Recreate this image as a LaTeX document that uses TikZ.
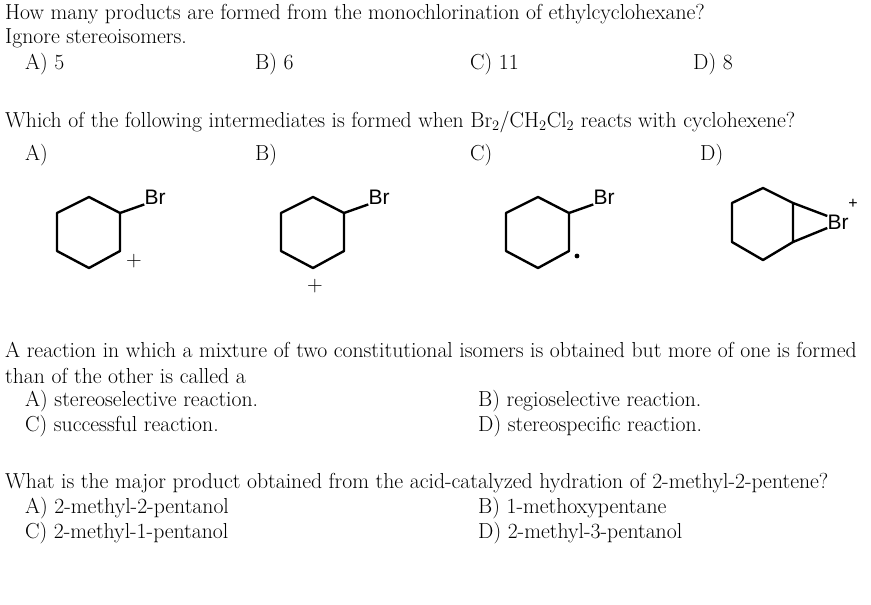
\documentclass[tikz,border=0pt]{standalone}
\usepackage{fontspec}
\newfontfamily\brfont{Liberation Sans}
\usetikzlibrary{positioning}
\tikzset{
    txt/.style={anchor=west,inner sep=0pt,font=\fontsize{21.7}{24}\selectfont},
    atom/.style={inner sep=0pt,font=\brfont\fontsize{21}{24}\selectfont},
    bond/.style={line width=2.4pt,line join=round}
}
\begin{document}
\begin{tikzpicture}[x=1pt,y=-1pt]
    \useasboundingbox (0,0) rectangle (871,605);
    % question 1
    \node[txt] (q1a) at (5,14) {How many products are formed from the monochlorination of ethylcyclohexane?};
    \node[txt] (q1b) at (5,38) {Ignore stereoisomers.};
    \node[txt] (q1A) at (25,64) {A) 5};
    \node[txt] (q1B) at (255,64) {B) 6};
    \node[txt] (q1C) at (470,64) {C) 11};
    \node[txt] (q1D) at (693,64) {D) 8};
    % question 2
    \node[txt] (q2a) at (5,122) {Which of the following intermediates is formed when Br$_2$/CH$_2$Cl$_2$ reacts with cyclohexene?};
    \node[txt] (q2A) at (25,155) {A)};
    \node[txt] (q2B) at (255,155) {B)};
    \node[txt] (q2C) at (470,155) {C)};
    \node[txt] (q2D) at (700,155) {D)};
    % structures A-C
    \foreach \dx/\nm in {0/a,224/b,449/c} {
      \draw[bond] (89+\dx,197) -- (120+\dx,213) -- (120+\dx,251) -- (89+\dx,268)
        -- (57+\dx,251) -- (57+\dx,213) -- cycle;
      \node[atom] (br\nm) at (155+\dx,197) {Br};
      \draw[bond] (120+\dx,213) -- (br\nm.south west);
    }
    \node[txt] (plusa) at (126,261) {+};
    \node[txt] (plusb) at (307,286) {+};
    \fill (577,256) circle (2.4);
    % structure D
    \draw[bond] (763,188) -- (793,203) -- (793,242) -- (763,260) -- (732,242)
      -- (732,203) -- cycle;
    \node[atom] (brd) at (838,222) {Br};
    \node[atom,font=\brfont\fontsize{16}{17}\selectfont] (chg) at (853,204) {+};
    \draw[bond] (793,203) -- (brd.west|-0,216);
    \draw[bond] (793,242) -- (brd.west|-0,228);
    % question 3
    \node[txt] (q3a) at (5,350) {A reaction in which a mixture of two constitutional isomers is obtained but more of one is formed};
    \node[txt] (q3b) at (5,376) {than of the other is called a};
    \node[txt] (q3A) at (25,401) {A) stereoselective reaction.};
    \node[txt] (q3B) at (478,401) {B) regioselective reaction.};
    \node[txt] (q3C) at (25,426) {C) successful reaction.};
    \node[txt] (q3D) at (478,426) {D) stereospecific reaction.};
    % question 4
    \node[txt] (q4a) at (5,483) {What is the major product obtained from the acid-catalyzed hydration of 2-methyl-2-pentene?};
    \node[txt] (q4A) at (25,508) {A) 2-methyl-2-pentanol};
    \node[txt] (q4B) at (478,508) {B) 1-methoxypentane};
    \node[txt] (q4C) at (25,533) {C) 2-methyl-1-pentanol};
    \node[txt] (q4D) at (478,533) {D) 2-methyl-3-pentanol};
\end{tikzpicture}
\end{document}
